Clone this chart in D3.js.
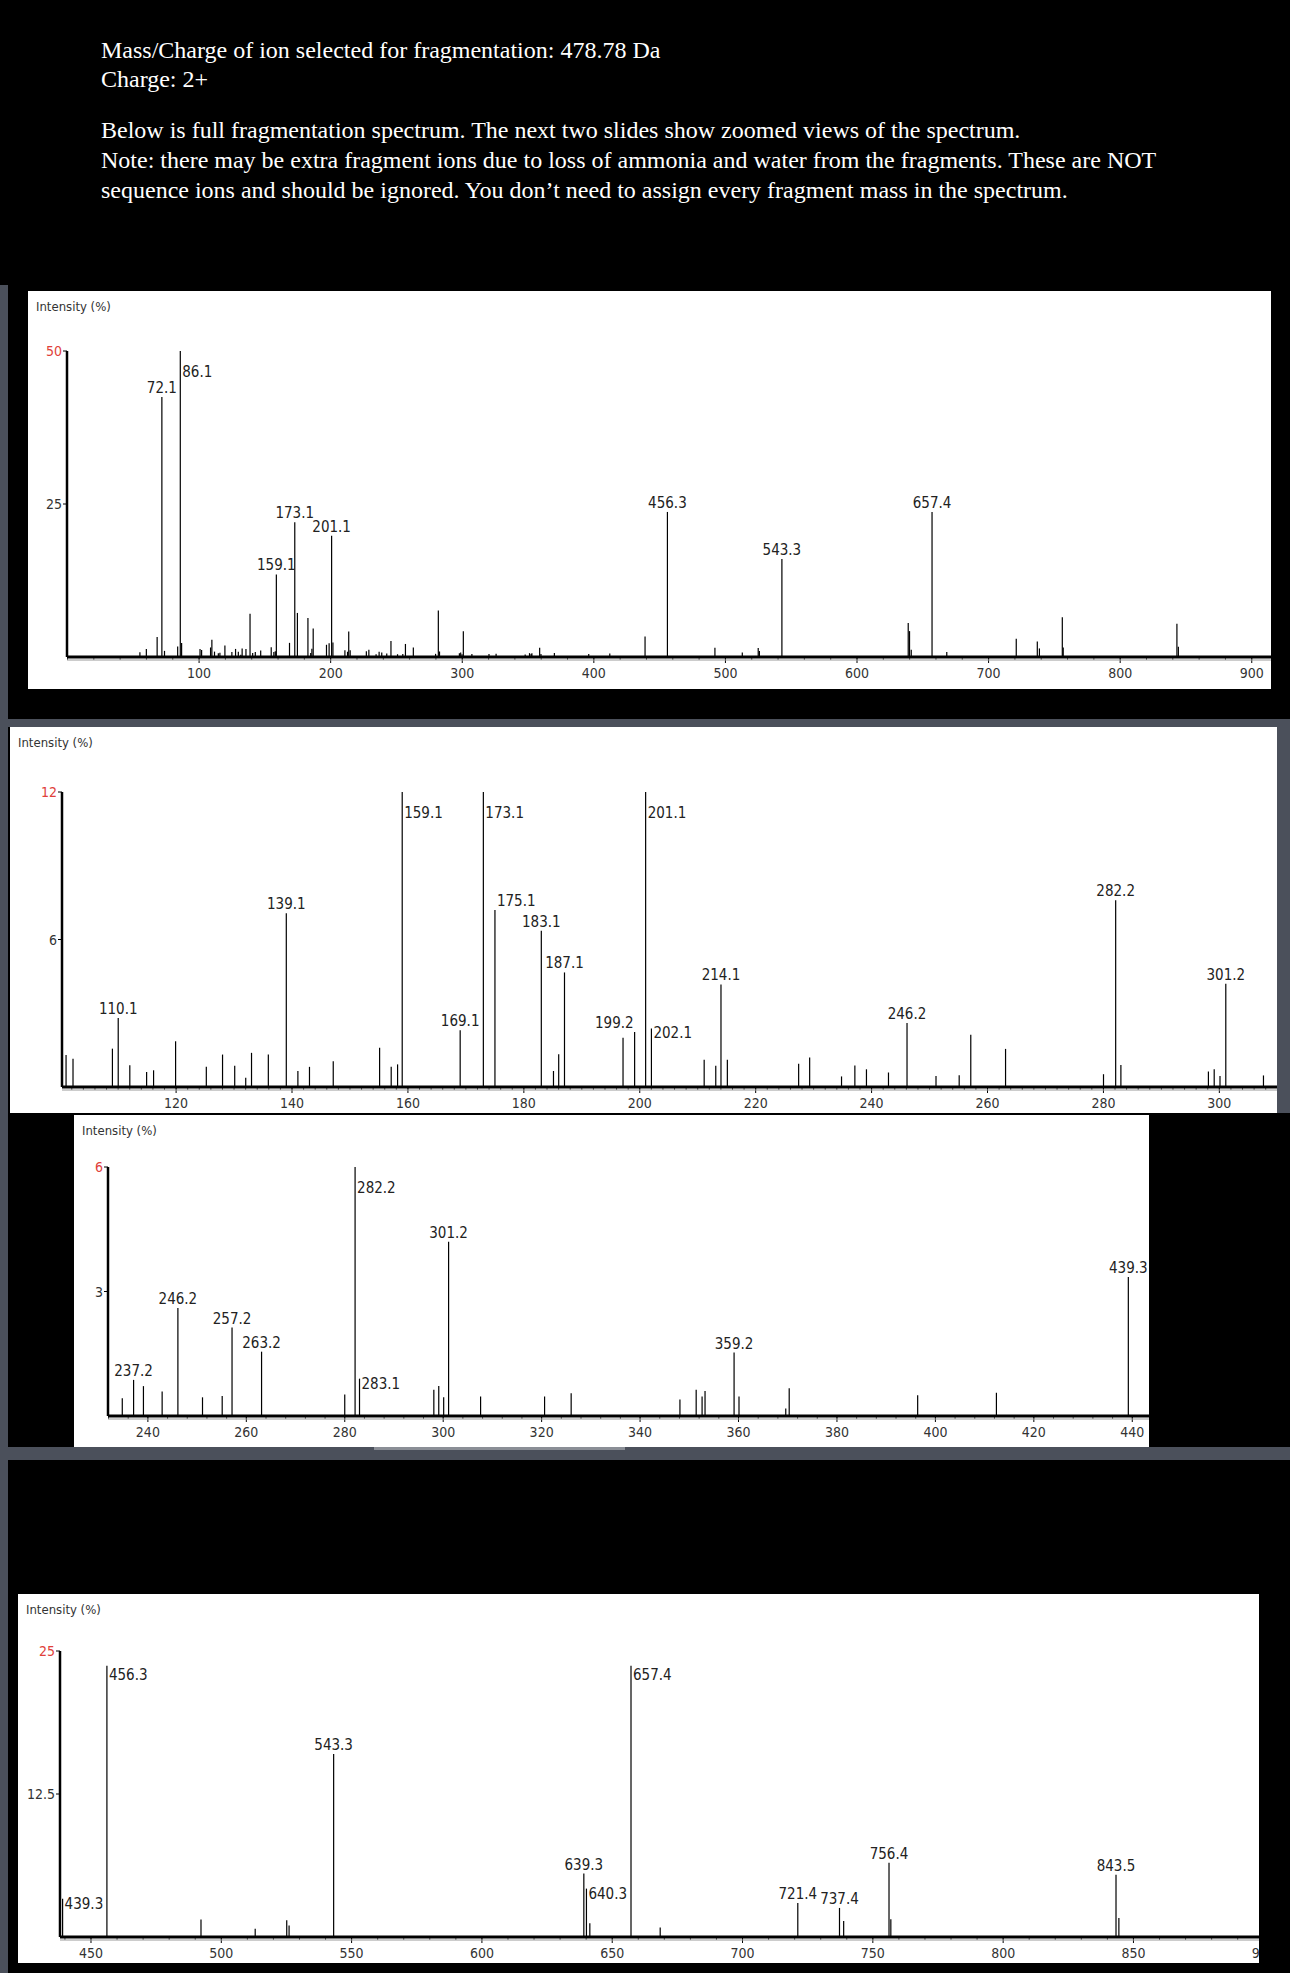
<!DOCTYPE html>
<html><head><meta charset="utf-8">
<script src="https://cdn.jsdelivr.net/npm/d3@7"></script>
<style>body{margin:0;background:#000}svg{display:block}</style>
</head><body>
<script>
const titleLines1 = ["Mass/Charge of ion selected for fragmentation: 478.78 Da","Charge: 2+"];
const titleLines2 = ["Below is full fragmentation spectrum. The next two slides show zoomed views of the spectrum.",
 "Note: there may be extra fragment ions due to loss of ammonia and water from the fragments. These are NOT",
 "sequence ions and should be ignored. You don\u2019t need to assign every fragment mass in the spectrum."];

// m/z values and relative intensities (%)
const mz = [55.4,60.3,68.5,72.1,74.1,84.1,86.1,87.1,101.1,102.3,109.1,110.1,112.1,115.0,116.2,120.0,125.3,128.1,130.2,132.1,133.1,136.0,139.1,141.1,143.1,147.2,155.2,157.2,158.3,159.1,169.1,173.1,175.1,183.1,185.2,186.1,187.1,197.2,199.2,201.1,202.1,211.2,213.2,214.1,215.2,227.5,229.4,234.9,237.2,239.2,243.0,246.2,251.2,255.2,257.2,263.2,280.1,282.2,283.1,298.2,299.2,300.2,301.2,307.7,320.7,326.1,348.2,351.5,352.7,353.3,359.2,360.2,369.7,370.4,396.5,412.5,439.3,456.3,492.4,513.2,525.3,526.2,543.3,639.3,640.3,641.6,657.4,668.6,721.4,737.4,739.0,756.4,757.1,843.5,844.6];
const intensity = [0.76,1.3,3.27,42.5,1.0,1.7,50.5,2.3,1.3,1.15,1.56,2.81,0.88,0.61,0.68,1.86,0.82,1.32,0.86,0.38,1.39,1.32,7.07,0.65,0.82,1.05,1.6,0.82,0.92,13.5,2.31,22.0,7.2,6.36,0.65,1.33,4.66,2.0,2.24,19.8,2.38,1.11,0.86,4.17,1.11,0.95,1.2,0.43,0.87,0.72,0.59,2.6,0.45,0.48,2.13,1.55,0.52,7.6,0.9,0.63,0.72,0.45,4.2,0.47,0.47,0.55,0.4,0.63,0.47,0.6,1.53,0.47,0.18,0.67,0.5,0.56,3.35,23.7,1.52,0.73,1.46,1.0,16.0,5.54,4.23,1.2,23.7,0.82,2.98,2.54,1.4,6.48,1.55,5.45,1.66];
const peaks = mz.map((m,i)=>({mz:m, y:intensity[i]}));

// labelled peaks per panel: [m/z, label placement]
const labels1 = [[72.1,"c"],[86.1,"r"],[159.1,"c"],[173.1,"c"],[201.1,"c"],[456.3,"c"],[543.3,"c"],[657.4,"c"]];
const labels2 = [[110.1,"c"],[139.1,"c"],[159.1,"r"],[169.1,"c"],[173.1,"r"],[175.1,"ra"],[183.1,"c"],[187.1,"c"],[199.2,"l"],[201.1,"r"],[202.1,"rt"],[214.1,"c"],[246.2,"c"],[282.2,"c"],[301.2,"c"]];
const labels3 = [[237.2,"c"],[246.2,"c"],[257.2,"c"],[263.2,"c"],[282.2,"r"],[283.1,"rt"],[301.2,"c"],[359.2,"c"],[439.3,"c"]];
const labels4 = [[439.3,"rt"],[456.3,"r4"],[543.3,"c"],[639.3,"c"],[640.3,"rt"],[657.4,"r4"],[721.4,"c"],[737.4,"c"],[756.4,"c"],[843.5,"c"]];

const xTicks1 = [100,200,300,400,500,600,700,800,900];
const xTicks2 = [120,140,160,180,200,220,240,260,280,300];
const xTicks3 = [240,260,280,300,320,340,360,380,400,420,440];
const xTicks4 = [450,500,550,600,650,700,750,800,850,900];
const yTicks1 = [25,50], yTicks2=[6,12], yTicks3=[3,6], yTicks4=[12.5,25];

const W=1290,H=1973;
const svg=d3.select("body").append("svg").attr("width",W).attr("height",H);
svg.append("rect").attr("width",W).attr("height",H).attr("fill","#000");
const serif="'Liberation Serif','Times New Roman',serif";
const sans="'DejaVu Sans Condensed','Liberation Sans Narrow','Roboto',sans-serif";

svg.selectAll("text.t1").data(titleLines1).join("text").attr("x",101).attr("y",(d,i)=>58+i*29)
  .attr("fill","#fff").attr("font-family",serif).attr("font-size",24).text(d=>d);
svg.selectAll("text.t2").data(titleLines2).join("text").attr("x",101).attr("y",(d,i)=>138+i*30)
  .attr("fill","#fff").attr("font-family",serif).attr("font-size",24).text(d=>d);

svg.append("rect").attr("x",0).attr("y",285).attr("width",8).attr("height",H-285).attr("fill","#4b505b");
svg.append("rect").attr("x",0).attr("y",719).attr("width",W).attr("height",8).attr("fill","#4b505b");
svg.append("rect").attr("x",1277).attr("y",719).attr("width",13).attr("height",400).attr("fill","#4b505b");
svg.append("rect").attr("x",0).attr("y",1447).attr("width",W).attr("height",13).attr("fill","#4b505b");
svg.append("rect").attr("x",374).attr("y",1446).attr("width",251).attr("height",4).attr("fill","#8a8e96");

function panel(c){
  const g=svg.append("g");
  g.append("rect").attr("x",c.rx).attr("y",c.ry).attr("width",c.rw).attr("height",c.rh).attr("fill","#fff");
  const id="clip"+c.id;
  g.append("clipPath").attr("id",id).append("rect").attr("x",c.rx).attr("y",c.ry).attr("width",c.rw).attr("height",c.rh);
  const inner=g.append("g").attr("clip-path",`url(#${id})`);
  const x=d3.scaleLinear().domain(c.xd).range([c.x0,c.x1]);
  const y=d3.scaleLinear().domain([0,c.ymax]).range([c.yb,c.yt]).clamp(true);
  inner.append("text").attr("x",c.rx+8).attr("y",c.ry+20).attr("font-family",sans).attr("font-size",13).attr("fill","#333").text("Intensity (%)");
  const pk=peaks.filter(p=>p.mz>=c.xd[0]&&p.mz<=c.xd[1]);
  inner.selectAll("line.pk").data(pk).join("line").attr("x1",d=>x(d.mz)).attr("x2",d=>x(d.mz))
    .attr("y1",c.yb).attr("y2",d=>y(d.y)).attr("stroke","#000").attr("stroke-width",1.2);
  g.append("line").attr("x1",c.x0).attr("x2",c.x0).attr("y1",c.yt).attr("y2",c.yb).attr("stroke","#000").attr("stroke-width",2.5);
  const yt=g.selectAll("g.yt").data(c.yTicks).join("g");
  yt.append("line").attr("x1",c.x0-4).attr("x2",c.x0).attr("y1",d=>y(d)).attr("y2",d=>y(d)).attr("stroke","#000");
  yt.append("text").attr("x",c.x0-5).attr("y",d=>y(d)+5).attr("text-anchor","end").attr("font-family",sans).attr("font-size",14)
    .attr("fill",(d,i)=>i===c.yTicks.length-1?"#e0403a":"#333").text(d=>d);
  const xa=d3.axisBottom(x).tickValues(d3.range(Math.ceil(c.xd[0]/c.minor)*c.minor,c.xd[1],c.minor)).tickSize(3).tickFormat("");
  inner.append("g").attr("transform",`translate(0,${c.yb})`).call(xa).call(s=>s.select(".domain").remove()).selectAll("line").attr("stroke","#555");
  const xm=d3.axisBottom(x).tickValues(c.xTicks).tickSize(6).tickFormat(d3.format("d")).tickPadding(5);
  const ax=inner.append("g").attr("transform",`translate(0,${c.yb})`).call(xm);
  ax.select(".domain").remove();
  ax.selectAll("text").attr("font-family",sans).attr("font-size",14).attr("fill","#333");
  inner.append("line").attr("x1",c.x0).attr("x2",c.rx+c.rw).attr("y1",c.yb).attr("y2",c.yb).attr("stroke","#000").attr("stroke-width",3);
  inner.append("line").attr("x1",c.x0).attr("x2",c.rx+c.rw).attr("y1",c.yb+3).attr("y2",c.yb+3).attr("stroke","#999").attr("stroke-width",1);
  const lab=c.labels.map(([m,a])=>({m,a,p:peaks.find(p=>p.mz===m)}));
  const dy={c:-4,ra:-4,l:-4,r:26,rt:10,r4:14};
  inner.selectAll("text.lb").data(lab).join("text")
    .attr("x",d=>d.a==="c"?x(d.m):d.a==="l"?x(d.m)-1:x(d.m)+2)
    .attr("y",d=>y(d.p.y)+dy[d.a])
    .attr("text-anchor",d=>d.a==="c"?"middle":d.a==="l"?"end":"start")
    .attr("font-family",sans).attr("font-size",15).attr("fill","#222").text(d=>d.m.toFixed(1));
}

panel({id:1,rx:28,ry:291,rw:1243,rh:398,x0:67,x1:1271,xd:[0,915],yt:351,yb:657,ymax:50,yTicks:yTicks1,xTicks:xTicks1,minor:20,labels:labels1});
panel({id:2,rx:10,ry:727,rw:1267,rh:390,x0:62,x1:1271,xd:[100.4,309],yt:792,yb:1087,ymax:12,yTicks:yTicks2,xTicks:xTicks2,minor:2,labels:labels2});
svg.append("rect").attr("x",0).attr("y",1113).attr("width",W).attr("height",334).attr("fill","#000");
svg.append("rect").attr("x",0).attr("y",1113).attr("width",8).attr("height",334).attr("fill","#4b505b");
panel({id:3,rx:74,ry:1115,rw:1075,rh:332,x0:108,x1:1149,xd:[232,443.5],yt:1167,yb:1416,ymax:6,yTicks:yTicks3,xTicks:xTicks3,minor:4,labels:labels3});
panel({id:4,rx:18,ry:1594,rw:1241,rh:369,x0:60,x1:1257,xd:[438.3,897.6],yt:1651,yb:1937,ymax:25,yTicks:yTicks4,xTicks:xTicks4,minor:10,labels:labels4});
</script>
</body></html>
